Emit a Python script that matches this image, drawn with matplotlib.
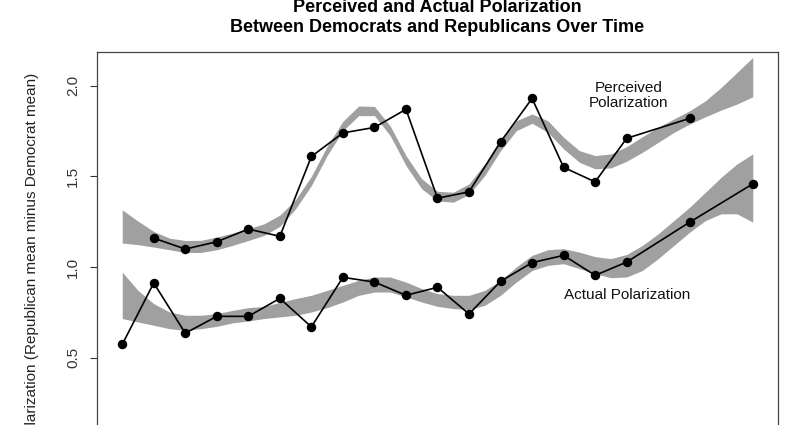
# Perceived vs actual polarization, with smoothed bands
import numpy as np
import matplotlib.pyplot as plt

plt.rcParams["font.family"] = ["Liberation Sans", "DejaVu Sans"]

# survey years with observations (no 2006 / 2010 study)
years_perceived = [1974, 1976, 1978, 1980, 1982, 1984, 1986, 1988, 1990,
                   1992, 1994, 1996, 1998, 2000, 2002, 2004, 2008]
perceived = [1.16, 1.10, 1.14, 1.21, 1.17, 1.61, 1.74, 1.77, 1.87,
             1.38, 1.415, 1.69, 1.93, 1.55, 1.47, 1.71, 1.82]

years_actual = [1972, 1974, 1976, 1978, 1980, 1982, 1984, 1986, 1988, 1990,
                1992, 1994, 1996, 1998, 2000, 2002, 2004, 2008, 2012]
actual = [0.574, 0.913, 0.636, 0.729, 0.729, 0.828, 0.671, 0.944, 0.918, 0.845,
          0.889, 0.742, 0.922, 1.025, 1.065, 0.955, 1.028, 1.248, 1.459]

# smoothed band, read every year 1972-2012
band_years = list(range(1972, 2013))
perc_lo = [1.133, 1.124, 1.111, 1.096, 1.081, 1.081, 1.096, 1.120, 1.147, 1.175,
           1.225, 1.322, 1.450, 1.615, 1.752, 1.835, 1.835, 1.725, 1.560, 1.432,
           1.365, 1.358, 1.400, 1.505, 1.642, 1.752, 1.793, 1.743, 1.652, 1.578,
           1.542, 1.547, 1.584, 1.633, 1.688, 1.743, 1.789, 1.829, 1.866, 1.899,
           1.939]
perc_hi = [1.316, 1.254, 1.197, 1.160, 1.147, 1.148, 1.166, 1.188, 1.212, 1.239,
           1.287, 1.373, 1.501, 1.666, 1.804, 1.888, 1.886, 1.778, 1.615, 1.487,
           1.418, 1.413, 1.459, 1.569, 1.707, 1.807, 1.844, 1.807, 1.716, 1.642,
           1.615, 1.624, 1.664, 1.719, 1.771, 1.817, 1.862, 1.917, 1.991, 2.073,
           2.156]
act_lo = [0.717, 0.698, 0.680, 0.661, 0.652, 0.661, 0.674, 0.693, 0.704, 0.717,
          0.726, 0.735, 0.753, 0.777, 0.808, 0.845, 0.863, 0.863, 0.836, 0.808,
          0.784, 0.772, 0.766, 0.790, 0.845, 0.918, 0.982, 1.010, 1.019, 0.992,
          0.964, 0.942, 0.946, 0.982, 1.047, 1.120, 1.193, 1.257, 1.294, 1.294,
          1.248]
act_hi = [0.973, 0.872, 0.799, 0.753, 0.735, 0.735, 0.744, 0.762, 0.777, 0.784,
          0.806, 0.827, 0.845, 0.872, 0.900, 0.927, 0.946, 0.946, 0.918, 0.882,
          0.854, 0.845, 0.845, 0.872, 0.927, 1.001, 1.065, 1.096, 1.102, 1.083,
          1.058, 1.047, 1.070, 1.120, 1.184, 1.257, 1.331, 1.413, 1.496, 1.569,
          1.624]

yticks = [0.5, 1.0, 1.5, 2.0]

fig = plt.figure(figsize=(8.11, 4.25), dpi=100)
# plot region runs past the bottom edge (reference is cropped)
ax = fig.add_axes([0.1196, -0.0915, 0.8397, 0.9684])

band_col = "#a0a0a0"
ax.fill_between(band_years, perc_lo, perc_hi, color=band_col, lw=0)
ax.fill_between(band_years, act_lo, act_hi, color=band_col, lw=0)

ax.plot(years_perceived, perceived, "-o", color="black", lw=1.2, ms=5.8)
ax.plot(years_actual, actual, "-o", color="black", lw=1.2, ms=5.8)

ax.text(2004.1, 1.948, "Perceived\nPolarization", ha="center", va="center",
        fontsize=11, linespacing=1.1, color="#111111")
ax.text(2004.0, 0.845, "Actual Polarization", ha="center", va="center",
        fontsize=11, color="#111111")

ax.set_xlim(1970.4, 2013.6)
ax.set_ylim(-0.084, 2.184)
ax.set_yticks(yticks)
ax.set_yticklabels([f"{t:.1f}" for t in yticks])
ax.tick_params(axis="y", length=5, width=0.8, pad=7, labelsize=11,
               colors="#333333")
plt.setp(ax.get_yticklabels(), rotation=90, va="center")
ax.set_xticks([])
for s in ax.spines.values():
    s.set_color("#444444")
    s.set_linewidth(0.9)

# label is cut at the bottom edge, as in the reference
fig.text(0.04, 1 - 258 / 425, "Polarization (Republican mean minus Democrat mean)",
         rotation=90, ha="center", va="center", fontsize=11, color="#222222")

fig.text(0.5395, 1 - 7 / 425, "Perceived and Actual Polarization",
         ha="center", va="center", fontsize=13, fontweight="bold")
fig.text(0.5395, 1 - 28 / 425, "Between Democrats and Republicans Over Time",
         ha="center", va="center", fontsize=13, fontweight="bold")

fig.savefig("out.png", dpi=100)
